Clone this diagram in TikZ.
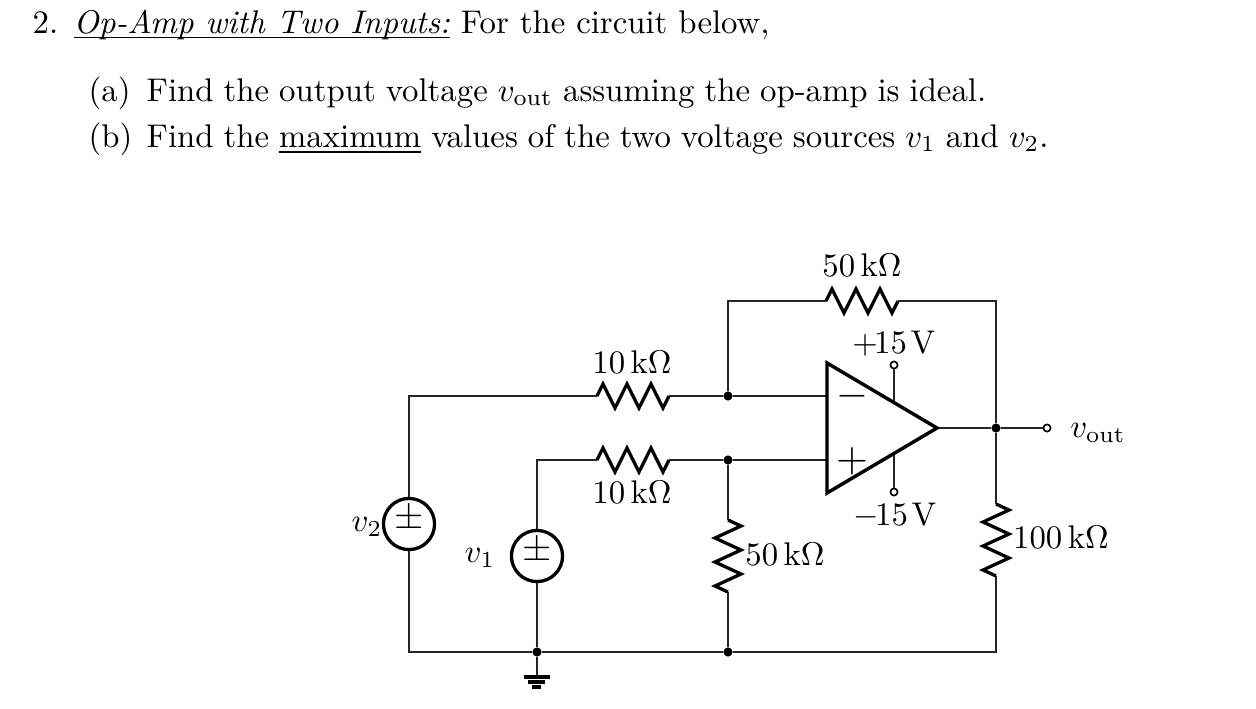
\documentclass[tikz,border=0pt]{standalone}
\tikzset{
  wire/.style={line width=0.65pt,draw=black!85},
  body/.style={line width=1pt,draw=black,line join=miter},
  dot/.style={circle,fill=black,inner sep=0pt,minimum size=2.8pt},
  term/.style={circle,draw=black,line width=0.5pt,fill=white,inner sep=0pt,minimum size=2.2pt},
  src/.style={circle,draw=black,line width=1pt,fill=white,inner sep=0pt,minimum size=15.6pt},
  lab/.style={inner sep=0pt,anchor=center},
  txt/.style={inner sep=0pt,anchor=base west}
}
\newcommand{\zigH}[2]{\draw[body] (#1) -- ++(6,-12) -- ++(12,24) -- ++(12,-24) -- ++(12,24) -- ++(12,-24) -- ++(12,24) -- (#2);}
\newcommand{\zigV}[2]{\draw[body] (#1) -- ++(13,6) -- ++(-26,12) -- ++(26,12) -- ++(-26,12) -- ++(26,12) -- ++(-26,12) -- (#2);}
\begin{document}
\begin{tikzpicture}[x=0.305pt,y=-0.305pt]
\useasboundingbox (0,0) rectangle (1256,708);
% text
\node[txt] (t0) at (32,33) {2.};
\node[txt] (t1) at (73,33) {\underline{\smash{\textit{Op-Amp with Two Inputs:}}} For the circuit below,};
\node[txt] (t2) at (88,101) {(a)};
\node[txt] (t3) at (146,101) {\spaceskip=3.05pt Find the output voltage $v_{\mathrm{out}}$ assuming the op-amp is ideal.};
\node[txt] (t4) at (88,147) {(b)};
\node[txt] (t5) at (146,147) {\spaceskip=3.05pt Find the \underline{maximum} values of the two voltage sources $v_1$ and $v_2$.};
% points
\coordinate (tl) at (728,301);
\coordinate (tr) at (996,301);
\coordinate (r1a) at (826,301);
\coordinate (r1b) at (898,301);
\coordinate (r2a) at (597,396);
\coordinate (r2b) at (669,396);
\coordinate (r3a) at (597,460);
\coordinate (r3b) at (669,460);
\coordinate (r4a) at (728,520);
\coordinate (r4b) at (728,592);
\coordinate (r5a) at (996,504);
\coordinate (r5b) at (996,576);
\coordinate (c2) at (409,396);
\coordinate (c1) at (537,460);
\coordinate (b2) at (409,652);
\coordinate (br) at (996,652);
\coordinate (g) at (537,677);
\coordinate (inm) at (827,396);
\coordinate (inp) at (827,460);
\coordinate (vp) at (894,403);
\coordinate (vn) at (894,453);
\coordinate (tip) at (937,428);
% components
\node[src] (s2) at (409,524) {};
\node[src] (s1) at (537,556) {};
\node[lab,scale=1.15] (p2) at (409,519) {$\pm$};
\node[lab,scale=1.15] (p1) at (537,551) {$\pm$};
\node[dot] (j1) at (728,396) {};
\node[dot] (j2) at (728,460) {};
\node[dot] (j3) at (996,428) {};
\node[dot] (j4) at (537,652) {};
\node[dot] (j5) at (728,652) {};
\node[term] (to) at (1047,428) {};
\node[term] (tp) at (894,365) {};
\node[term] (tn) at (894,492) {};
% wires
\draw[wire] (j1) -- (tl) -- (r1a);
\draw[wire] (r1b) -- (tr) -- (j3);
\draw[wire] (s2) -- (c2) -- (r2a);
\draw[wire] (r2b) -- (j1) -- (inm);
\draw[wire] (s1) -- (c1) -- (r3a);
\draw[wire] (r3b) -- (j2) -- (inp);
\draw[wire] (j2) -- (r4a);
\draw[wire] (r4b) -- (j5);
\draw[wire] (j3) -- (r5a);
\draw[wire] (r5b) -- (br) -- (j5) -- (j4) -- (b2) -- (s2);
\draw[wire] (j4) -- (s1);
\draw[wire] (j4) -- (g);
\draw[wire] (tip) -- (j3) -- (to);
\draw[wire] (vp) -- (tp);
\draw[wire] (vn) -- (tn);
% resistors
\zigH{r1a}{r1b}
\zigH{r2a}{r2b}
\zigH{r3a}{r3b}
\zigV{r4a}{r4b}
\zigV{r5a}{r5b}
% ground
\draw[body] (524,677) -- (550,677);
\draw[body] (528,682) -- (545,682);
\draw[body] (532,687) -- (541,687);
% op-amp
\draw[body,line width=1.05pt] (827,363) -- (tip) -- (827,493) -- cycle;
\node[lab,scale=1.25] (mi) at (852,396) {$-$};
\node[lab,scale=1.25] (pl) at (852,461) {$+$};
% labels
\node[lab] (l1) at (862,265) {$50\,\mathrm{k\Omega}$};
\node[lab] (l2) at (632,362) {$10\,\mathrm{k\Omega}$};
\node[lab] (l3) at (632,492) {$10\,\mathrm{k\Omega}$};
\node[lab] (l4) at (785,554) {$50\,\mathrm{k\Omega}$};
\node[lab] (l5) at (1061,537) {$100\,\mathrm{k\Omega}$};
\node[lab] (l6) at (894,344) {$+\mkern-2mu15\mkern2mu\mathrm{V}$};
\node[lab] (l7) at (895,516) {$-\mkern-2mu15\mkern2mu\mathrm{V}$};
\node[lab] (l8) at (1098,433) {$v_{\mathrm{out}}$};
\node[lab] (l9) at (367,527) {$v_2$};
\node[lab] (l10) at (480,558) {$v_1$};
\end{tikzpicture}
\end{document}
